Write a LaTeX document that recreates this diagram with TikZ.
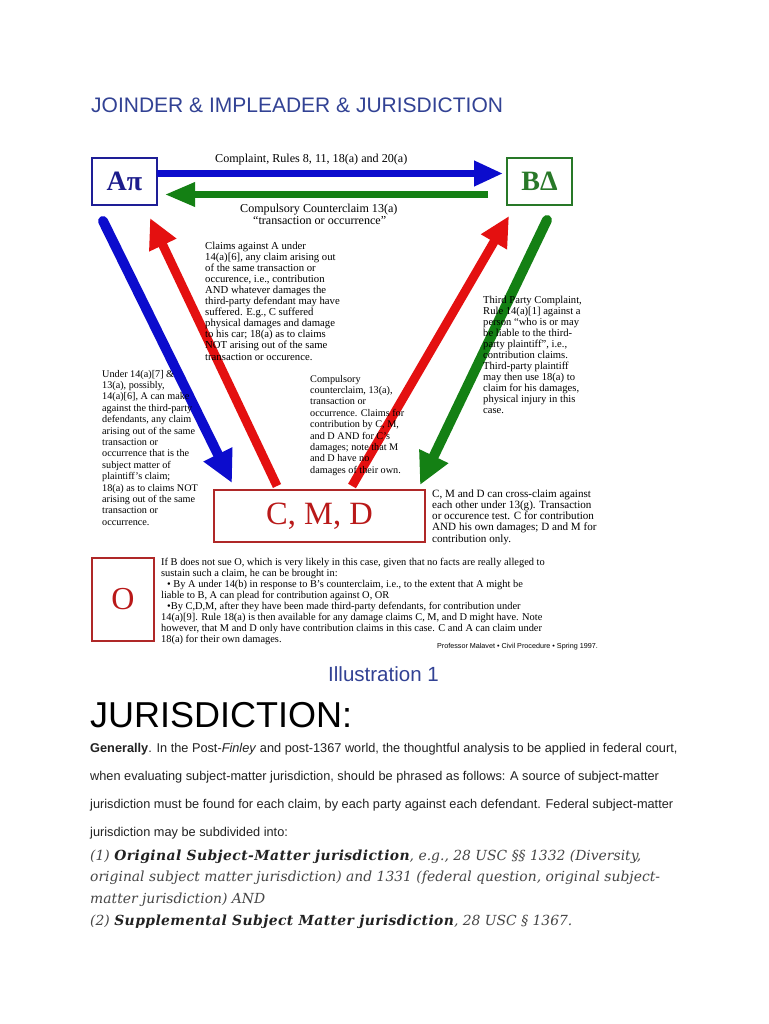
\documentclass[tikz,border=0pt]{standalone}
\usepackage{fontspec}
\setmainfont{Liberation Serif}
\newfontfamily\arial{Liberation Sans}
\newfontfamily\dvs{DejaVu Serif}
\usetikzlibrary{arrows.meta}
\definecolor{titleblue}{RGB}{50,66,148}
\definecolor{aboxblue}{RGB}{30,30,150}
\definecolor{atext}{RGB}{28,28,140}
\definecolor{bgreen}{RGB}{40,120,40}
\definecolor{arblue}{RGB}{12,12,205}
\definecolor{argreen}{RGB}{20,128,20}
\definecolor{arred}{RGB}{228,16,16}
\definecolor{cred}{RGB}{175,40,40}
\definecolor{ctext}{RGB}{185,25,25}
\definecolor{bodyc}{RGB}{34,34,34}
\definecolor{slabc}{RGB}{70,70,70}
\newcommand{\blk}[1]{\begin{tabular}[t]{@{}l@{}}#1\end{tabular}}
\newcommand{\sbf}[1]{{\bfseries\addfontfeature{LetterSpace=3}\color{bodyc}#1}}
\tikzset{
  txt/.style={anchor=base west, inner sep=0pt},
  party/.style={draw, line width=1.6pt, inner sep=0pt},
  bigarrow/.style={line width=#1, line cap=round}
}
\begin{document}
\begin{tikzpicture}[x=1pt,y=-1pt]
\useasboundingbox[fill=white] (0,0) rectangle (768,1024);

\node[txt, font=\arial\fontsize{21}{25}\selectfont, text=titleblue] (title) at (91,113) {JOINDER \& IMPLEADER \& JURISDICTION};

% party boxes
\node[party, draw=aboxblue, minimum width=65pt, minimum height=47pt] (A) at (124.5,181.5) {\fontsize{28}{30}\selectfont\bfseries\color{atext}Aπ};
\node[party, draw=bgreen, minimum width=65pt, minimum height=47pt] (B) at (539.5,181.5) {\fontsize{28}{30}\selectfont\bfseries\color{bgreen}BΔ};
\node[party, draw=cred, minimum width=211pt, minimum height=52pt] (CMD) at (319.5,516) {\fontsize{32.5}{34}\selectfont\color{ctext}C, M, D};
\node[party, draw=cred, minimum width=62pt, minimum height=83pt] (O) at (123,599.5) {\fontsize{32}{34}\selectfont\color{ctext}O};

% arrow end points
\coordinate (ab1) at (157,173.5);
\coordinate (ab2) at (503,173.5);
\coordinate (ba1) at (488,194.5);
\coordinate (ba2) at (165,194.5);
\coordinate (bl1) at (103,221);
\coordinate (bl2) at (232,483);
\coordinate (r11) at (277,486);
\coordinate (r12) at (150,218);
\coordinate (r21) at (352,486);
\coordinate (r22) at (509,216);
\coordinate (g1) at (547,220);
\coordinate (g2) at (420,485);

\draw[arblue, line width=7pt, -{Triangle[length=29pt,width=24pt]}] (ab1) -- (ab2);
\draw[argreen, line width=6.5pt, -{Triangle[length=30pt,width=23pt]}] (ba1) -- (ba2);
\draw[arblue, bigarrow=10pt, -{Triangle[length=32pt,width=30pt]}] (bl1) -- (bl2);
\draw[arred, line width=9pt, -{Triangle[length=30pt,width=28pt]}] (r11) -- (r12);
\draw[arred, line width=9pt, -{Triangle[length=30pt,width=28pt]}] (r21) -- (r22);
\draw[argreen, bigarrow=10pt, -{Triangle[length=32pt,width=30pt]}] (g1) -- (g2);

% arrow labels
\node[txt, font=\fontsize{12.1}{13}\selectfont] (l1) at (215,163) {Complaint, Rules 8, 11, 18(a) and 20(a)};
\node[txt, font=\fontsize{12.1}{13}\selectfont] (l2) at (240,213) {Compulsory Counterclaim 13(a)};
\node[txt, font=\fontsize{12.1}{13}\selectfont] (l3) at (253,225) {“transaction or occurrence”};

% text blocks
\node[txt, font=\fontsize{10.7}{11.1}\selectfont] (t2) at (205,249) {\blk{Claims against A under\\
14(a)[6], any claim arising out\\
of the same transaction or\\
occurence, i.e., contribution\\
AND whatever damages the\\
third-party defendant may have\\
suffered. E.g., C suffered\\
physical damages and damage\\
to his car; 18(a) as to claims\\
NOT arising out of the same\\
transaction or occurence.}};

\node[txt, font=\fontsize{10.6}{11}\selectfont] (t3) at (483,303) {\blk{Third Party Complaint,\\
Rule 14(a)[1] against a\\
person “who is or may\\
be liable to the third-\\
party plaintiff”, i.e.,\\
contribution claims.\\
Third-party plaintiff\\
may then use 18(a) to\\
claim for his damages,\\
physical injury in this\\
case.}};

\node[txt, font=\fontsize{10.2}{11.4}\selectfont] (t4) at (102,377) {\blk{Under 14(a)[7] \&\\
13(a), possibly,\\
14(a)[6], A can make\\
against the third-party\\
defendants, any claim\\
arising out of the same\\
transaction or\\
occurrence that is the\\
subject matter of\\
plaintiff's claim;\\
18(a) as to claims NOT\\
arising out of the same\\
transaction or\\
occurrence.}};

\node[txt, font=\fontsize{10.2}{11.4}\selectfont] (t5) at (310,382) {\blk{Compulsory\\
counterclaim, 13(a),\\
transaction or\\
occurrence. Claims for\\
contribution by C, M,\\
and D AND for C's\\
damages; note that M\\
and D have no\\
damages of their own.}};

\node[txt, font=\fontsize{11.1}{11.25}\selectfont] (t6) at (432,497) {\blk{C, M and D can cross-claim against\\
each other under 13(g). Transaction\\
or occurence test. C for contribution\\
AND his own damages; D and M for\\
contribution only.}};

\node[txt, font=\fontsize{10.4}{11}\selectfont] (t7) at (161,565) {\blk{If B does not sue O, which is very likely in this case, given that no facts are really alleged to\\
sustain such a claim, he can be brought in:\\
\hspace*{6pt}• By A under 14(b) in response to B's counterclaim, i.e., to the extent that A might be\\
liable to B, A can plead for contribution against O, OR\\
\hspace*{6pt}•By C,D,M, after they have been made third-party defendants, for contribution under\\
14(a)[9]. Rule 18(a) is then available for any damage claims C, M, and D might have. Note\\
however, that M and D only have contribution claims in this case. C and A can claim under\\
18(a) for their own damages.}};

\node[anchor=base east, inner sep=0pt, font=\arial\fontsize{7.2}{8}\selectfont] (credit) at (598,648) {Professor Malavet • Civil Procedure • Spring 1997.};

% lower text
\node[anchor=base, inner sep=0pt, font=\arial\fontsize{20.5}{24}\selectfont, text=titleblue] (ill) at (383.5,681) {Illustration 1};
\node[txt, font=\arial\fontsize{36}{40}\selectfont, text=black] (jur) at (90,727) {JURISDICTION:};

\node[txt, font=\arial\fontsize{12.75}{28}\selectfont, text=bodyc] (para) at (90,752) {\blk{\textbf{Generally}. In the Post-\textit{Finley} and post-1367 world, the thoughtful analysis to be applied in federal court,\\
when evaluating subject-matter jurisdiction, should be phrased as follows: A source of subject-matter\\
jurisdiction must be found for each claim, by each party against each defendant. Federal subject-matter\\
jurisdiction may be subdivided into:}};

\node[txt, font=\dvs\itshape\fontsize{13.9}{21.7}\selectfont, text=slabc] (list) at (90,860) {\blk{(1) \sbf{Original Subject-Matter jurisdiction}, e.g., 28 USC §§ 1332 (Diversity,\\
original subject matter jurisdiction) and 1331 (federal question, original subject-\\
matter jurisdiction) AND\\
(2) \sbf{Supplemental Subject Matter jurisdiction}, 28 USC § 1367.}};
\end{tikzpicture}
\end{document}
